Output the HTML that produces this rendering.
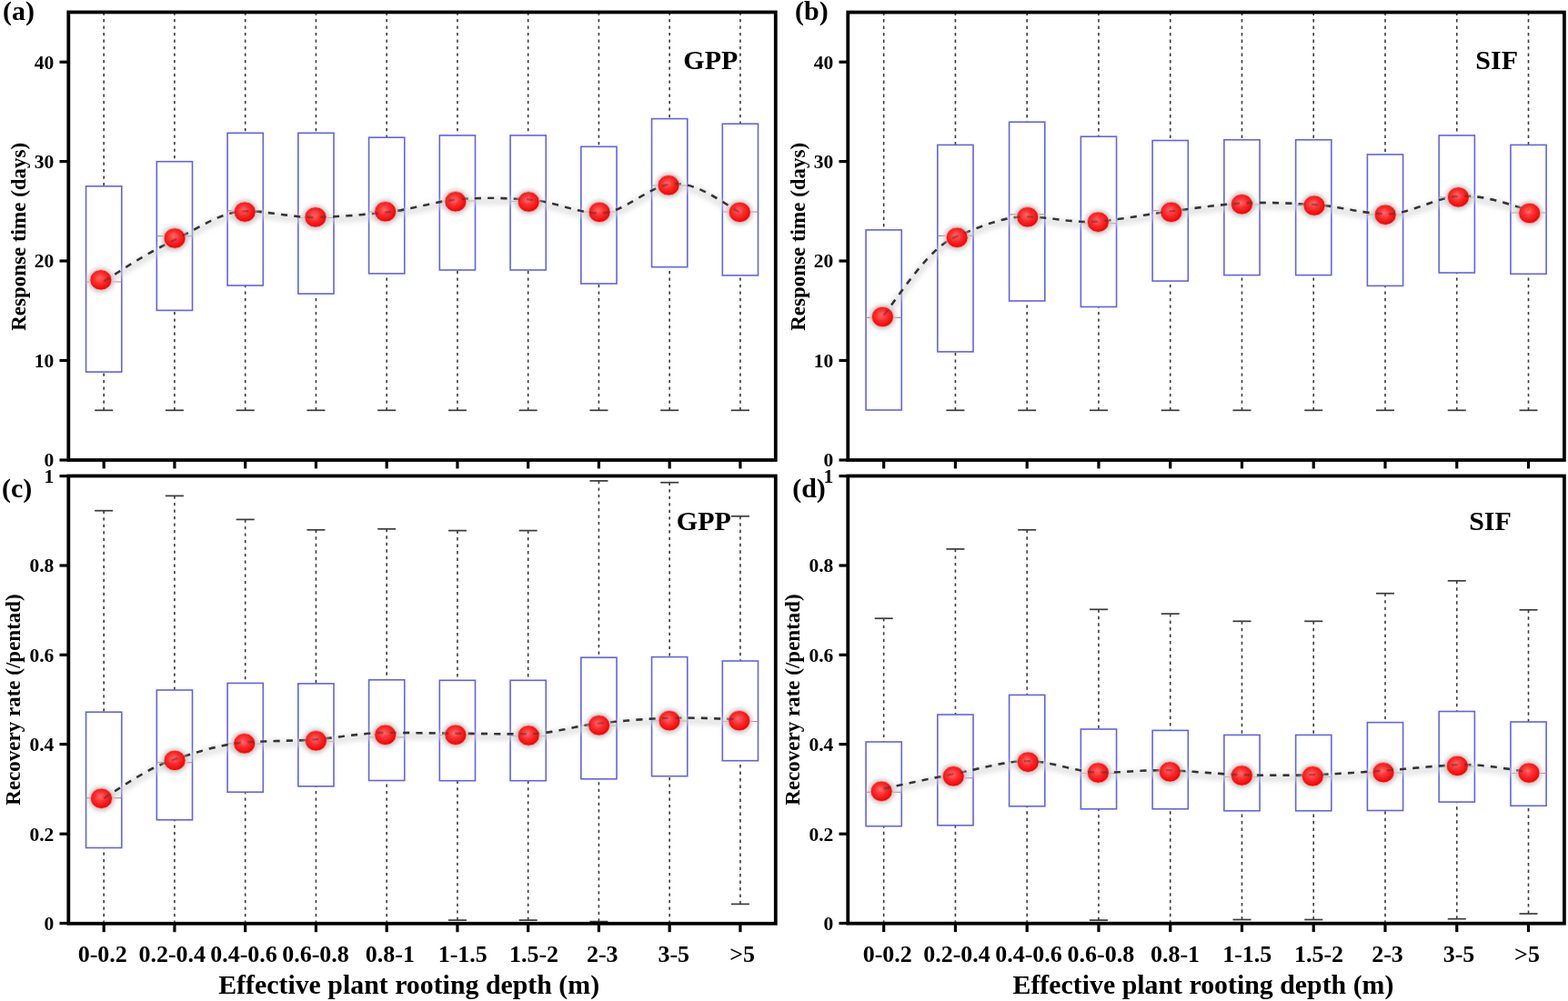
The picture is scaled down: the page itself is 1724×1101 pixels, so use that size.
<!DOCTYPE html><html><head><meta charset="utf-8"><title>Effective plant rooting depth</title>
<style>html,body{margin:0;padding:0;background:#fff;width:1724px;height:1101px;overflow:hidden}svg{display:block}text{font-family:'Liberation Serif','Times New Roman',serif;font-weight:bold;fill:#000;font-variant-ligatures:none}</style></head><body>
<svg width="1724" height="1101" viewBox="0 0 1724 1101">
<defs><radialGradient id="rg" cx="0.45" cy="0.42" r="0.62" fx="0.45" fy="0.42"><stop offset="0" stop-color="#ff6b6b"/><stop offset="0.45" stop-color="#ff2a2a"/><stop offset="0.85" stop-color="#f00808"/><stop offset="1" stop-color="#d80000"/></radialGradient><filter id="glow" x="-50%" y="-50%" width="200%" height="200%"><feGaussianBlur stdDeviation="2.2"/></filter><filter id="lsh" x="-5%" y="-50%" width="110%" height="200%"><feGaussianBlur stdDeviation="2.6"/></filter></defs>
<rect width="1724" height="1101" fill="#fff"/>
<g stroke="#3a3a3a" stroke-width="1.6" stroke-dasharray="3.4 4.1" fill="none"><line x1="114.17" y1="13.4" x2="114.17" y2="204.8"/><line x1="114.17" y1="451.3" x2="114.17" y2="409.1"/><line x1="191.93" y1="13.4" x2="191.93" y2="177.7"/><line x1="191.93" y1="451.3" x2="191.93" y2="341.4"/><line x1="269.68" y1="13.4" x2="269.68" y2="146.3"/><line x1="269.68" y1="451.3" x2="269.68" y2="314"/><line x1="347.43" y1="13.4" x2="347.43" y2="146.3"/><line x1="347.43" y1="451.3" x2="347.43" y2="323.1"/><line x1="425.18" y1="13.4" x2="425.18" y2="151.2"/><line x1="425.18" y1="451.3" x2="425.18" y2="300.9"/><line x1="502.93" y1="13.4" x2="502.93" y2="148.9"/><line x1="502.93" y1="451.3" x2="502.93" y2="297"/><line x1="580.67" y1="13.4" x2="580.67" y2="148.9"/><line x1="580.67" y1="451.3" x2="580.67" y2="297"/><line x1="658.42" y1="13.4" x2="658.42" y2="161.3"/><line x1="658.42" y1="451.3" x2="658.42" y2="312"/><line x1="736.17" y1="13.4" x2="736.17" y2="130.6"/><line x1="736.17" y1="451.3" x2="736.17" y2="293.7"/><line x1="813.92" y1="13.4" x2="813.92" y2="136.2"/><line x1="813.92" y1="451.3" x2="813.92" y2="302.9"/></g>
<g stroke="#3a3a3a" stroke-width="1.7"><line x1="104.17" y1="451.3" x2="124.17" y2="451.3"/><line x1="181.93" y1="451.3" x2="201.93" y2="451.3"/><line x1="259.68" y1="451.3" x2="279.68" y2="451.3"/><line x1="337.43" y1="451.3" x2="357.43" y2="451.3"/><line x1="415.18" y1="451.3" x2="435.18" y2="451.3"/><line x1="492.93" y1="451.3" x2="512.92" y2="451.3"/><line x1="570.67" y1="451.3" x2="590.67" y2="451.3"/><line x1="648.42" y1="451.3" x2="668.42" y2="451.3"/><line x1="726.17" y1="451.3" x2="746.17" y2="451.3"/><line x1="803.92" y1="451.3" x2="823.92" y2="451.3"/></g>
<g stroke="#6262e4" stroke-width="1.6" fill="none"><rect x="94.57" y="204.8" width="39.2" height="204.3"/><rect x="172.33" y="177.7" width="39.2" height="163.7"/><rect x="250.08" y="146.3" width="39.2" height="167.7"/><rect x="327.82" y="146.3" width="39.2" height="176.8"/><rect x="405.57" y="151.2" width="39.2" height="149.7"/><rect x="483.32" y="148.9" width="39.2" height="148.1"/><rect x="561.07" y="148.9" width="39.2" height="148.1"/><rect x="638.82" y="161.3" width="39.2" height="150.7"/><rect x="716.57" y="130.6" width="39.2" height="163.1"/><rect x="794.32" y="136.2" width="39.2" height="166.7"/></g>
<g stroke="#b08898" stroke-width="1.2"><line x1="94.57" y1="310" x2="133.78" y2="310"/><line x1="172.33" y1="259.7" x2="211.53" y2="259.7"/><line x1="250.08" y1="231.6" x2="289.28" y2="231.6"/><line x1="327.82" y1="239.5" x2="367.03" y2="239.5"/><line x1="405.57" y1="233" x2="444.78" y2="233"/><line x1="483.32" y1="221" x2="522.52" y2="221"/><line x1="561.07" y1="221.5" x2="600.27" y2="221.5"/><line x1="638.82" y1="233" x2="678.02" y2="233"/><line x1="716.57" y1="204" x2="755.77" y2="204"/><line x1="794.32" y1="233" x2="833.52" y2="233"/></g>
<path d="M114.17,309.6 C140.09,292.46 166.01,276.35 191.93,263.8 C217.84,251.25 243.76,232.54 269.68,232.3 C295.59,232.06 321.51,239.63 347.43,238.9 C373.34,238.17 399.26,236.38 425.18,233.5 C451.09,230.62 477.01,222 502.93,219.4 C528.84,216.8 554.76,218 580.67,219.4 C606.59,220.8 632.51,233.68 658.42,234.6 C684.34,235.52 710.26,206.81 736.17,202.6 C762.09,198.39 788.01,218.29 813.92,234.1" transform="translate(0,3)" stroke="#d4d4d4" stroke-width="9" fill="none" filter="url(#lsh)" opacity="0.55"/>
<path d="M114.17,309.6 C140.09,292.46 166.01,276.35 191.93,263.8 C217.84,251.25 243.76,232.54 269.68,232.3 C295.59,232.06 321.51,239.63 347.43,238.9 C373.34,238.17 399.26,236.38 425.18,233.5 C451.09,230.62 477.01,222 502.93,219.4 C528.84,216.8 554.76,218 580.67,219.4 C606.59,220.8 632.51,233.68 658.42,234.6 C684.34,235.52 710.26,206.81 736.17,202.6 C762.09,198.39 788.01,218.29 813.92,234.1" stroke="#333333" stroke-width="2.4" stroke-dasharray="7 7.3" fill="none"/>
<ellipse cx="110.9" cy="308.2" rx="14.6" ry="13.8" fill="#c2cbc7" filter="url(#glow)" opacity="0.9"/><ellipse cx="192.1" cy="262.3" rx="14.6" ry="13.8" fill="#c2cbc7" filter="url(#glow)" opacity="0.9"/><ellipse cx="269.2" cy="233.4" rx="14.6" ry="13.8" fill="#c2cbc7" filter="url(#glow)" opacity="0.9"/><ellipse cx="346.9" cy="239.2" rx="14.6" ry="13.8" fill="#c2cbc7" filter="url(#glow)" opacity="0.9"/><ellipse cx="423.7" cy="233.1" rx="14.6" ry="13.8" fill="#c2cbc7" filter="url(#glow)" opacity="0.9"/><ellipse cx="500.9" cy="222.1" rx="14.6" ry="13.8" fill="#c2cbc7" filter="url(#glow)" opacity="0.9"/><ellipse cx="581.2" cy="222.3" rx="14.6" ry="13.8" fill="#c2cbc7" filter="url(#glow)" opacity="0.9"/><ellipse cx="659.1" cy="233.7" rx="14.6" ry="13.8" fill="#c2cbc7" filter="url(#glow)" opacity="0.9"/><ellipse cx="735.1" cy="204.1" rx="14.6" ry="13.8" fill="#c2cbc7" filter="url(#glow)" opacity="0.9"/><ellipse cx="813.3" cy="233.7" rx="14.6" ry="13.8" fill="#c2cbc7" filter="url(#glow)" opacity="0.9"/>
<g fill="url(#rg)" stroke="#ffb8b8" stroke-width="0.8"><ellipse cx="110.9" cy="307.9" rx="12" ry="11.2"/><ellipse cx="192.1" cy="262" rx="12" ry="11.2"/><ellipse cx="269.2" cy="233.1" rx="12" ry="11.2"/><ellipse cx="346.9" cy="238.9" rx="12" ry="11.2"/><ellipse cx="423.7" cy="232.8" rx="12" ry="11.2"/><ellipse cx="500.9" cy="221.8" rx="12" ry="11.2"/><ellipse cx="581.2" cy="222" rx="12" ry="11.2"/><ellipse cx="659.1" cy="233.4" rx="12" ry="11.2"/><ellipse cx="735.1" cy="203.8" rx="12" ry="11.2"/><ellipse cx="813.3" cy="233.4" rx="12" ry="11.2"/></g>
<path d="M114.17,309.6 C140.09,292.46 166.01,276.35 191.93,263.8 C217.84,251.25 243.76,232.54 269.68,232.3 C295.59,232.06 321.51,239.63 347.43,238.9 C373.34,238.17 399.26,236.38 425.18,233.5 C451.09,230.62 477.01,222 502.93,219.4 C528.84,216.8 554.76,218 580.67,219.4 C606.59,220.8 632.51,233.68 658.42,234.6 C684.34,235.52 710.26,206.81 736.17,202.6 C762.09,198.39 788.01,218.29 813.92,234.1" stroke="#333333" stroke-opacity="0.45" stroke-width="2.4" stroke-dasharray="7 7.3" fill="none"/>
<rect x="75.3" y="13.4" width="777.5" height="492.6" fill="none" stroke="#000" stroke-width="3.8"/><line x1="65.5" y1="506" x2="75.3" y2="506" stroke="#000" stroke-width="3.2"/><line x1="65.5" y1="396.5" x2="75.3" y2="396.5" stroke="#000" stroke-width="3.2"/><line x1="65.5" y1="287" x2="75.3" y2="287" stroke="#000" stroke-width="3.2"/><line x1="65.5" y1="177.6" x2="75.3" y2="177.6" stroke="#000" stroke-width="3.2"/><line x1="65.5" y1="68.2" x2="75.3" y2="68.2" stroke="#000" stroke-width="3.2"/><line x1="114.17" y1="506" x2="114.17" y2="515.4" stroke="#000" stroke-width="3.2"/><line x1="191.93" y1="506" x2="191.93" y2="515.4" stroke="#000" stroke-width="3.2"/><line x1="269.68" y1="506" x2="269.68" y2="515.4" stroke="#000" stroke-width="3.2"/><line x1="347.43" y1="506" x2="347.43" y2="515.4" stroke="#000" stroke-width="3.2"/><line x1="425.18" y1="506" x2="425.18" y2="515.4" stroke="#000" stroke-width="3.2"/><line x1="502.93" y1="506" x2="502.93" y2="515.4" stroke="#000" stroke-width="3.2"/><line x1="580.67" y1="506" x2="580.67" y2="515.4" stroke="#000" stroke-width="3.2"/><line x1="658.42" y1="506" x2="658.42" y2="515.4" stroke="#000" stroke-width="3.2"/><line x1="736.17" y1="506" x2="736.17" y2="515.4" stroke="#000" stroke-width="3.2"/><line x1="813.92" y1="506" x2="813.92" y2="515.4" stroke="#000" stroke-width="3.2"/>
<g style="font-size:21.5px"><text x="59.3" y="513.3" text-anchor="end">0</text><text x="59.3" y="403.8" text-anchor="end">10</text><text x="59.3" y="294.3" text-anchor="end">20</text><text x="59.3" y="184.9" text-anchor="end">30</text><text x="59.3" y="75.5" text-anchor="end">40</text></g>
<text transform="translate(27.8,260.3) rotate(-90)" text-anchor="middle" style="font-size:23px">Response time (days)</text>
<text x="3" y="21.5" style="font-size:30px">(a)</text>
<text x="751.3" y="75.5" style="font-size:30px">GPP</text>
<g stroke="#3a3a3a" stroke-width="1.6" stroke-dasharray="3.4 4.1" fill="none"><line x1="971.68" y1="13.5" x2="971.68" y2="252.9"/><line x1="1050.44" y1="13.5" x2="1050.44" y2="159.4"/><line x1="1050.44" y1="451.3" x2="1050.44" y2="386.9"/><line x1="1129.2" y1="13.5" x2="1129.2" y2="134.2"/><line x1="1129.2" y1="451.3" x2="1129.2" y2="331"/><line x1="1207.96" y1="13.5" x2="1207.96" y2="150.2"/><line x1="1207.96" y1="451.3" x2="1207.96" y2="337.5"/><line x1="1286.72" y1="13.5" x2="1286.72" y2="154.5"/><line x1="1286.72" y1="451.3" x2="1286.72" y2="309.1"/><line x1="1365.48" y1="13.5" x2="1365.48" y2="153.8"/><line x1="1365.48" y1="451.3" x2="1365.48" y2="302.6"/><line x1="1444.24" y1="13.5" x2="1444.24" y2="153.8"/><line x1="1444.24" y1="451.3" x2="1444.24" y2="302.6"/><line x1="1523" y1="13.5" x2="1523" y2="169.9"/><line x1="1523" y1="451.3" x2="1523" y2="314.4"/><line x1="1601.76" y1="13.5" x2="1601.76" y2="148.9"/><line x1="1601.76" y1="451.3" x2="1601.76" y2="300"/><line x1="1680.52" y1="13.5" x2="1680.52" y2="159.4"/><line x1="1680.52" y1="451.3" x2="1680.52" y2="301.3"/></g>
<g stroke="#3a3a3a" stroke-width="1.7"><line x1="1040.44" y1="451.3" x2="1060.44" y2="451.3"/><line x1="1119.2" y1="451.3" x2="1139.2" y2="451.3"/><line x1="1197.96" y1="451.3" x2="1217.96" y2="451.3"/><line x1="1276.72" y1="451.3" x2="1296.72" y2="451.3"/><line x1="1355.48" y1="451.3" x2="1375.48" y2="451.3"/><line x1="1434.24" y1="451.3" x2="1454.24" y2="451.3"/><line x1="1513" y1="451.3" x2="1533" y2="451.3"/><line x1="1591.76" y1="451.3" x2="1611.76" y2="451.3"/><line x1="1670.52" y1="451.3" x2="1690.52" y2="451.3"/></g>
<g stroke="#6262e4" stroke-width="1.6" fill="none"><rect x="952.08" y="252.9" width="39.2" height="198.1"/><rect x="1030.84" y="159.4" width="39.2" height="227.5"/><rect x="1109.6" y="134.2" width="39.2" height="196.8"/><rect x="1188.36" y="150.2" width="39.2" height="187.3"/><rect x="1267.12" y="154.5" width="39.2" height="154.6"/><rect x="1345.88" y="153.8" width="39.2" height="148.8"/><rect x="1424.64" y="153.8" width="39.2" height="148.8"/><rect x="1503.4" y="169.9" width="39.2" height="144.5"/><rect x="1582.16" y="148.9" width="39.2" height="151.1"/><rect x="1660.92" y="159.4" width="39.2" height="141.9"/></g>
<g stroke="#b08898" stroke-width="1.2"><line x1="952.08" y1="349.3" x2="991.28" y2="349.3"/><line x1="1030.84" y1="259.4" x2="1070.04" y2="259.4"/><line x1="1109.6" y1="235.9" x2="1148.8" y2="235.9"/><line x1="1188.36" y1="245.7" x2="1227.56" y2="245.7"/><line x1="1267.12" y1="231.6" x2="1306.32" y2="231.6"/><line x1="1345.88" y1="225" x2="1385.08" y2="225"/><line x1="1424.64" y1="226" x2="1463.84" y2="226"/><line x1="1503.4" y1="236" x2="1542.6" y2="236"/><line x1="1582.16" y1="217" x2="1621.36" y2="217"/><line x1="1660.92" y1="234" x2="1700.12" y2="234"/></g>
<path d="M971.68,347 C997.93,311.26 1024.19,271.51 1050.44,260.6 C1076.69,249.69 1102.95,237.96 1129.2,238.4 C1155.45,238.84 1181.71,245.82 1207.96,243.5 C1234.21,241.18 1260.47,235.79 1286.72,232.5 C1312.97,229.21 1339.23,224.94 1365.48,223.5 C1391.73,222.06 1417.99,223.63 1444.24,225 C1470.49,226.37 1496.75,234.79 1523,235.4 C1549.25,236.01 1575.51,218.57 1601.76,216 C1628.01,213.43 1654.27,223.08 1680.52,231.2" transform="translate(0,3)" stroke="#d4d4d4" stroke-width="9" fill="none" filter="url(#lsh)" opacity="0.55"/>
<path d="M971.68,347 C997.93,311.26 1024.19,271.51 1050.44,260.6 C1076.69,249.69 1102.95,237.96 1129.2,238.4 C1155.45,238.84 1181.71,245.82 1207.96,243.5 C1234.21,241.18 1260.47,235.79 1286.72,232.5 C1312.97,229.21 1339.23,224.94 1365.48,223.5 C1391.73,222.06 1417.99,223.63 1444.24,225 C1470.49,226.37 1496.75,234.79 1523,235.4 C1549.25,236.01 1575.51,218.57 1601.76,216 C1628.01,213.43 1654.27,223.08 1680.52,231.2" stroke="#333333" stroke-width="2.4" stroke-dasharray="7 7.3" fill="none"/>
<ellipse cx="970.4" cy="348.8" rx="14.6" ry="13.8" fill="#c2cbc7" filter="url(#glow)" opacity="0.9"/><ellipse cx="1052.2" cy="261.6" rx="14.6" ry="13.8" fill="#c2cbc7" filter="url(#glow)" opacity="0.9"/><ellipse cx="1129.8" cy="239.1" rx="14.6" ry="13.8" fill="#c2cbc7" filter="url(#glow)" opacity="0.9"/><ellipse cx="1207.4" cy="244.5" rx="14.6" ry="13.8" fill="#c2cbc7" filter="url(#glow)" opacity="0.9"/><ellipse cx="1287.8" cy="233.6" rx="14.6" ry="13.8" fill="#c2cbc7" filter="url(#glow)" opacity="0.9"/><ellipse cx="1365.4" cy="225" rx="14.6" ry="13.8" fill="#c2cbc7" filter="url(#glow)" opacity="0.9"/><ellipse cx="1445" cy="226.4" rx="14.6" ry="13.8" fill="#c2cbc7" filter="url(#glow)" opacity="0.9"/><ellipse cx="1523.2" cy="236.5" rx="14.6" ry="13.8" fill="#c2cbc7" filter="url(#glow)" opacity="0.9"/><ellipse cx="1603.4" cy="217.2" rx="14.6" ry="13.8" fill="#c2cbc7" filter="url(#glow)" opacity="0.9"/><ellipse cx="1681.7" cy="234.8" rx="14.6" ry="13.8" fill="#c2cbc7" filter="url(#glow)" opacity="0.9"/>
<g fill="url(#rg)" stroke="#ffb8b8" stroke-width="0.8"><ellipse cx="970.4" cy="348.5" rx="12" ry="11.2"/><ellipse cx="1052.2" cy="261.3" rx="12" ry="11.2"/><ellipse cx="1129.8" cy="238.8" rx="12" ry="11.2"/><ellipse cx="1207.4" cy="244.2" rx="12" ry="11.2"/><ellipse cx="1287.8" cy="233.3" rx="12" ry="11.2"/><ellipse cx="1365.4" cy="224.7" rx="12" ry="11.2"/><ellipse cx="1445" cy="226.1" rx="12" ry="11.2"/><ellipse cx="1523.2" cy="236.2" rx="12" ry="11.2"/><ellipse cx="1603.4" cy="216.9" rx="12" ry="11.2"/><ellipse cx="1681.7" cy="234.5" rx="12" ry="11.2"/></g>
<path d="M971.68,347 C997.93,311.26 1024.19,271.51 1050.44,260.6 C1076.69,249.69 1102.95,237.96 1129.2,238.4 C1155.45,238.84 1181.71,245.82 1207.96,243.5 C1234.21,241.18 1260.47,235.79 1286.72,232.5 C1312.97,229.21 1339.23,224.94 1365.48,223.5 C1391.73,222.06 1417.99,223.63 1444.24,225 C1470.49,226.37 1496.75,234.79 1523,235.4 C1549.25,236.01 1575.51,218.57 1601.76,216 C1628.01,213.43 1654.27,223.08 1680.52,231.2" stroke="#333333" stroke-opacity="0.45" stroke-width="2.4" stroke-dasharray="7 7.3" fill="none"/>
<rect x="932.3" y="13.5" width="787.6" height="492.5" fill="none" stroke="#000" stroke-width="3.8"/><line x1="922.5" y1="506" x2="932.3" y2="506" stroke="#000" stroke-width="3.2"/><line x1="922.5" y1="396.5" x2="932.3" y2="396.5" stroke="#000" stroke-width="3.2"/><line x1="922.5" y1="287" x2="932.3" y2="287" stroke="#000" stroke-width="3.2"/><line x1="922.5" y1="177.6" x2="932.3" y2="177.6" stroke="#000" stroke-width="3.2"/><line x1="922.5" y1="68.2" x2="932.3" y2="68.2" stroke="#000" stroke-width="3.2"/><line x1="971.68" y1="506" x2="971.68" y2="515.4" stroke="#000" stroke-width="3.2"/><line x1="1050.44" y1="506" x2="1050.44" y2="515.4" stroke="#000" stroke-width="3.2"/><line x1="1129.2" y1="506" x2="1129.2" y2="515.4" stroke="#000" stroke-width="3.2"/><line x1="1207.96" y1="506" x2="1207.96" y2="515.4" stroke="#000" stroke-width="3.2"/><line x1="1286.72" y1="506" x2="1286.72" y2="515.4" stroke="#000" stroke-width="3.2"/><line x1="1365.48" y1="506" x2="1365.48" y2="515.4" stroke="#000" stroke-width="3.2"/><line x1="1444.24" y1="506" x2="1444.24" y2="515.4" stroke="#000" stroke-width="3.2"/><line x1="1523" y1="506" x2="1523" y2="515.4" stroke="#000" stroke-width="3.2"/><line x1="1601.76" y1="506" x2="1601.76" y2="515.4" stroke="#000" stroke-width="3.2"/><line x1="1680.52" y1="506" x2="1680.52" y2="515.4" stroke="#000" stroke-width="3.2"/>
<g style="font-size:21.5px"><text x="916.3" y="513.3" text-anchor="end">0</text><text x="916.3" y="403.8" text-anchor="end">10</text><text x="916.3" y="294.3" text-anchor="end">20</text><text x="916.3" y="184.9" text-anchor="end">30</text><text x="916.3" y="75.5" text-anchor="end">40</text></g>
<text transform="translate(885.3,260.3) rotate(-90)" text-anchor="middle" style="font-size:23px">Response time (days)</text>
<text x="874" y="22" style="font-size:30px">(b)</text>
<text x="1622.3" y="75.5" style="font-size:30px">SIF</text>
<g stroke="#3a3a3a" stroke-width="1.6" stroke-dasharray="3.4 4.1" fill="none"><line x1="114.17" y1="561.7" x2="114.17" y2="783.2"/><line x1="114.17" y1="1015.8" x2="114.17" y2="932.5"/><line x1="191.93" y1="545.4" x2="191.93" y2="759"/><line x1="191.93" y1="1015.8" x2="191.93" y2="901.8"/><line x1="269.68" y1="571.4" x2="269.68" y2="751.4"/><line x1="269.68" y1="1015.8" x2="269.68" y2="871.2"/><line x1="347.43" y1="582.8" x2="347.43" y2="751.9"/><line x1="347.43" y1="1015.8" x2="347.43" y2="864.8"/><line x1="425.18" y1="581.8" x2="425.18" y2="747.8"/><line x1="425.18" y1="1015.8" x2="425.18" y2="858.5"/><line x1="502.93" y1="583.6" x2="502.93" y2="748.3"/><line x1="502.93" y1="1012.1" x2="502.93" y2="858.7"/><line x1="580.67" y1="583.6" x2="580.67" y2="748.3"/><line x1="580.67" y1="1012.1" x2="580.67" y2="858.7"/><line x1="658.42" y1="528.9" x2="658.42" y2="723.2"/><line x1="658.42" y1="1013.6" x2="658.42" y2="856.8"/><line x1="736.17" y1="530.7" x2="736.17" y2="722.6"/><line x1="736.17" y1="1015.8" x2="736.17" y2="853.7"/><line x1="813.92" y1="567.8" x2="813.92" y2="727"/><line x1="813.92" y1="994.4" x2="813.92" y2="836.7"/></g>
<g stroke="#3a3a3a" stroke-width="1.7"><line x1="104.17" y1="561.7" x2="124.17" y2="561.7"/><line x1="181.93" y1="545.4" x2="201.93" y2="545.4"/><line x1="259.68" y1="571.4" x2="279.68" y2="571.4"/><line x1="337.43" y1="582.8" x2="357.43" y2="582.8"/><line x1="415.18" y1="581.8" x2="435.18" y2="581.8"/><line x1="492.93" y1="583.6" x2="512.92" y2="583.6"/><line x1="492.93" y1="1012.1" x2="512.92" y2="1012.1"/><line x1="570.67" y1="583.6" x2="590.67" y2="583.6"/><line x1="570.67" y1="1012.1" x2="590.67" y2="1012.1"/><line x1="648.42" y1="528.9" x2="668.42" y2="528.9"/><line x1="648.42" y1="1013.6" x2="668.42" y2="1013.6"/><line x1="726.17" y1="530.7" x2="746.17" y2="530.7"/><line x1="803.92" y1="567.8" x2="823.92" y2="567.8"/><line x1="803.92" y1="994.4" x2="823.92" y2="994.4"/></g>
<g stroke="#6262e4" stroke-width="1.6" fill="none"><rect x="94.57" y="783.2" width="39.2" height="149.3"/><rect x="172.33" y="759" width="39.2" height="142.8"/><rect x="250.08" y="751.4" width="39.2" height="119.8"/><rect x="327.82" y="751.9" width="39.2" height="112.9"/><rect x="405.57" y="747.8" width="39.2" height="110.7"/><rect x="483.32" y="748.3" width="39.2" height="110.4"/><rect x="561.07" y="748.3" width="39.2" height="110.4"/><rect x="638.82" y="723.2" width="39.2" height="133.6"/><rect x="716.57" y="722.6" width="39.2" height="131.1"/><rect x="794.32" y="727" width="39.2" height="109.7"/></g>
<g stroke="#b08898" stroke-width="1.2"><line x1="94.57" y1="877.6" x2="133.78" y2="877.6"/><line x1="172.33" y1="838.6" x2="211.53" y2="838.6"/><line x1="250.08" y1="818" x2="289.28" y2="818"/><line x1="327.82" y1="815.5" x2="367.03" y2="815.5"/><line x1="405.57" y1="810.8" x2="444.78" y2="810.8"/><line x1="483.32" y1="808.5" x2="522.52" y2="808.5"/><line x1="561.07" y1="809.5" x2="600.27" y2="809.5"/><line x1="638.82" y1="798" x2="678.02" y2="798"/><line x1="716.57" y1="793" x2="755.77" y2="793"/><line x1="794.32" y1="793.5" x2="833.52" y2="793.5"/></g>
<path d="M114.17,878.2 C140.09,861.06 166.01,843.45 191.93,835.2 C217.84,826.95 243.76,818.34 269.68,816.5 C295.59,814.66 321.51,815.23 347.43,813.2 C373.34,811.17 399.26,805.87 425.18,805.9 C451.09,805.93 477.01,806.46 502.93,806.7 C528.84,806.94 554.76,807.34 580.67,807.3 C606.59,807.26 632.51,798.22 658.42,795.6 C684.34,792.98 710.26,790.41 736.17,789.8 C762.09,789.19 788.01,790.14 813.92,791.5" transform="translate(0,3)" stroke="#d4d4d4" stroke-width="9" fill="none" filter="url(#lsh)" opacity="0.55"/>
<path d="M114.17,878.2 C140.09,861.06 166.01,843.45 191.93,835.2 C217.84,826.95 243.76,818.34 269.68,816.5 C295.59,814.66 321.51,815.23 347.43,813.2 C373.34,811.17 399.26,805.87 425.18,805.9 C451.09,805.93 477.01,806.46 502.93,806.7 C528.84,806.94 554.76,807.34 580.67,807.3 C606.59,807.26 632.51,798.22 658.42,795.6 C684.34,792.98 710.26,790.41 736.17,789.8 C762.09,789.19 788.01,790.14 813.92,791.5" stroke="#333333" stroke-width="2.4" stroke-dasharray="7 7.3" fill="none"/>
<ellipse cx="111.5" cy="878.5" rx="14.6" ry="13.8" fill="#c2cbc7" filter="url(#glow)" opacity="0.9"/><ellipse cx="192.1" cy="836.7" rx="14.6" ry="13.8" fill="#c2cbc7" filter="url(#glow)" opacity="0.9"/><ellipse cx="268.7" cy="818.1" rx="14.6" ry="13.8" fill="#c2cbc7" filter="url(#glow)" opacity="0.9"/><ellipse cx="347.4" cy="815.1" rx="14.6" ry="13.8" fill="#c2cbc7" filter="url(#glow)" opacity="0.9"/><ellipse cx="423.7" cy="808.6" rx="14.6" ry="13.8" fill="#c2cbc7" filter="url(#glow)" opacity="0.9"/><ellipse cx="500.9" cy="808.6" rx="14.6" ry="13.8" fill="#c2cbc7" filter="url(#glow)" opacity="0.9"/><ellipse cx="581.2" cy="809.3" rx="14.6" ry="13.8" fill="#c2cbc7" filter="url(#glow)" opacity="0.9"/><ellipse cx="658.6" cy="798.1" rx="14.6" ry="13.8" fill="#c2cbc7" filter="url(#glow)" opacity="0.9"/><ellipse cx="736" cy="793" rx="14.6" ry="13.8" fill="#c2cbc7" filter="url(#glow)" opacity="0.9"/><ellipse cx="812.8" cy="793" rx="14.6" ry="13.8" fill="#c2cbc7" filter="url(#glow)" opacity="0.9"/>
<g fill="url(#rg)" stroke="#ffb8b8" stroke-width="0.8"><ellipse cx="111.5" cy="878.2" rx="12" ry="11.2"/><ellipse cx="192.1" cy="836.4" rx="12" ry="11.2"/><ellipse cx="268.7" cy="817.8" rx="12" ry="11.2"/><ellipse cx="347.4" cy="814.8" rx="12" ry="11.2"/><ellipse cx="423.7" cy="808.3" rx="12" ry="11.2"/><ellipse cx="500.9" cy="808.3" rx="12" ry="11.2"/><ellipse cx="581.2" cy="809" rx="12" ry="11.2"/><ellipse cx="658.6" cy="797.8" rx="12" ry="11.2"/><ellipse cx="736" cy="792.7" rx="12" ry="11.2"/><ellipse cx="812.8" cy="792.7" rx="12" ry="11.2"/></g>
<path d="M114.17,878.2 C140.09,861.06 166.01,843.45 191.93,835.2 C217.84,826.95 243.76,818.34 269.68,816.5 C295.59,814.66 321.51,815.23 347.43,813.2 C373.34,811.17 399.26,805.87 425.18,805.9 C451.09,805.93 477.01,806.46 502.93,806.7 C528.84,806.94 554.76,807.34 580.67,807.3 C606.59,807.26 632.51,798.22 658.42,795.6 C684.34,792.98 710.26,790.41 736.17,789.8 C762.09,789.19 788.01,790.14 813.92,791.5" stroke="#333333" stroke-opacity="0.45" stroke-width="2.4" stroke-dasharray="7 7.3" fill="none"/>
<rect x="75.3" y="523.5" width="777.5" height="492.3" fill="none" stroke="#000" stroke-width="3.8"/><line x1="65.5" y1="1015.5" x2="75.3" y2="1015.5" stroke="#000" stroke-width="3.2"/><line x1="65.5" y1="917.2" x2="75.3" y2="917.2" stroke="#000" stroke-width="3.2"/><line x1="65.5" y1="818.6" x2="75.3" y2="818.6" stroke="#000" stroke-width="3.2"/><line x1="65.5" y1="720.3" x2="75.3" y2="720.3" stroke="#000" stroke-width="3.2"/><line x1="65.5" y1="622" x2="75.3" y2="622" stroke="#000" stroke-width="3.2"/><line x1="65.5" y1="523.6" x2="75.3" y2="523.6" stroke="#000" stroke-width="3.2"/><line x1="114.17" y1="1015.8" x2="114.17" y2="1025.2" stroke="#000" stroke-width="3.2"/><line x1="191.93" y1="1015.8" x2="191.93" y2="1025.2" stroke="#000" stroke-width="3.2"/><line x1="269.68" y1="1015.8" x2="269.68" y2="1025.2" stroke="#000" stroke-width="3.2"/><line x1="347.43" y1="1015.8" x2="347.43" y2="1025.2" stroke="#000" stroke-width="3.2"/><line x1="425.18" y1="1015.8" x2="425.18" y2="1025.2" stroke="#000" stroke-width="3.2"/><line x1="502.93" y1="1015.8" x2="502.93" y2="1025.2" stroke="#000" stroke-width="3.2"/><line x1="580.67" y1="1015.8" x2="580.67" y2="1025.2" stroke="#000" stroke-width="3.2"/><line x1="658.42" y1="1015.8" x2="658.42" y2="1025.2" stroke="#000" stroke-width="3.2"/><line x1="736.17" y1="1015.8" x2="736.17" y2="1025.2" stroke="#000" stroke-width="3.2"/><line x1="813.92" y1="1015.8" x2="813.92" y2="1025.2" stroke="#000" stroke-width="3.2"/>
<g style="font-size:21.5px"><text x="59.3" y="1022.8" text-anchor="end">0</text><text x="59.3" y="924.5" text-anchor="end">0.2</text><text x="59.3" y="825.9" text-anchor="end">0.4</text><text x="59.3" y="727.6" text-anchor="end">0.6</text><text x="59.3" y="629.3" text-anchor="end">0.8</text><text x="59.3" y="530.9" text-anchor="end">1</text></g>
<text transform="translate(22.4,769.5) rotate(-90)" text-anchor="middle" style="font-size:23px">Recovery rate (/pentad)</text>
<text x="2" y="546.5" style="font-size:30px">(c)</text>
<text x="743.8" y="582.8" style="font-size:30px">GPP</text>
<g style="font-size:26px"><text x="112.8" y="1057.5" text-anchor="middle">0-0.2</text><text x="189.3" y="1057.5" text-anchor="middle">0.2-0.4</text><text x="268" y="1057.5" text-anchor="middle">0.4-0.6</text><text x="347" y="1057.5" text-anchor="middle">0.6-0.8</text><text x="428.9" y="1057.5" text-anchor="middle">0.8-1</text><text x="508.8" y="1057.5" text-anchor="middle">1-1.5</text><text x="587" y="1057.5" text-anchor="middle">1.5-2</text><text x="662.3" y="1057.5" text-anchor="middle">2-3</text><text x="740.8" y="1057.5" text-anchor="middle">3-5</text><text x="816.2" y="1057.5" text-anchor="middle">&gt;5</text></g>
<text x="240.2" y="1092.7" style="font-size:29.85px">Effective plant rooting depth (m)</text>
<g stroke="#3a3a3a" stroke-width="1.6" stroke-dasharray="3.4 4.1" fill="none"><line x1="971.68" y1="680.2" x2="971.68" y2="816"/><line x1="971.68" y1="1015.7" x2="971.68" y2="908.7"/><line x1="1050.44" y1="603.9" x2="1050.44" y2="786"/><line x1="1050.44" y1="1015.7" x2="1050.44" y2="907.8"/><line x1="1129.2" y1="582.8" x2="1129.2" y2="764.4"/><line x1="1129.2" y1="1015.7" x2="1129.2" y2="886.8"/><line x1="1207.96" y1="670.3" x2="1207.96" y2="802"/><line x1="1207.96" y1="1012.1" x2="1207.96" y2="889.8"/><line x1="1286.72" y1="675.1" x2="1286.72" y2="803.4"/><line x1="1286.72" y1="1015.7" x2="1286.72" y2="889.8"/><line x1="1365.48" y1="683.3" x2="1365.48" y2="808.4"/><line x1="1365.48" y1="1011.5" x2="1365.48" y2="891.8"/><line x1="1444.24" y1="683.3" x2="1444.24" y2="808.4"/><line x1="1444.24" y1="1011.5" x2="1444.24" y2="891.8"/><line x1="1523" y1="652.7" x2="1523" y2="794.6"/><line x1="1523" y1="1015.7" x2="1523" y2="891.5"/><line x1="1601.76" y1="638.8" x2="1601.76" y2="782.5"/><line x1="1601.76" y1="1010.7" x2="1601.76" y2="882.1"/><line x1="1680.52" y1="670.8" x2="1680.52" y2="794"/><line x1="1680.52" y1="1005" x2="1680.52" y2="886.3"/></g>
<g stroke="#3a3a3a" stroke-width="1.7"><line x1="961.68" y1="680.2" x2="981.68" y2="680.2"/><line x1="1040.44" y1="603.9" x2="1060.44" y2="603.9"/><line x1="1119.2" y1="582.8" x2="1139.2" y2="582.8"/><line x1="1197.96" y1="670.3" x2="1217.96" y2="670.3"/><line x1="1197.96" y1="1012.1" x2="1217.96" y2="1012.1"/><line x1="1276.72" y1="675.1" x2="1296.72" y2="675.1"/><line x1="1355.48" y1="683.3" x2="1375.48" y2="683.3"/><line x1="1355.48" y1="1011.5" x2="1375.48" y2="1011.5"/><line x1="1434.24" y1="683.3" x2="1454.24" y2="683.3"/><line x1="1434.24" y1="1011.5" x2="1454.24" y2="1011.5"/><line x1="1513" y1="652.7" x2="1533" y2="652.7"/><line x1="1591.76" y1="638.8" x2="1611.76" y2="638.8"/><line x1="1591.76" y1="1010.7" x2="1611.76" y2="1010.7"/><line x1="1670.52" y1="670.8" x2="1690.52" y2="670.8"/><line x1="1670.52" y1="1005" x2="1690.52" y2="1005"/></g>
<g stroke="#6262e4" stroke-width="1.6" fill="none"><rect x="952.08" y="816" width="39.2" height="92.7"/><rect x="1030.84" y="786" width="39.2" height="121.8"/><rect x="1109.6" y="764.4" width="39.2" height="122.4"/><rect x="1188.36" y="802" width="39.2" height="87.8"/><rect x="1267.12" y="803.4" width="39.2" height="86.4"/><rect x="1345.88" y="808.4" width="39.2" height="83.4"/><rect x="1424.64" y="808.4" width="39.2" height="83.4"/><rect x="1503.4" y="794.6" width="39.2" height="96.9"/><rect x="1582.16" y="782.5" width="39.2" height="99.6"/><rect x="1660.92" y="794" width="39.2" height="92.3"/></g>
<g stroke="#b08898" stroke-width="1.2"><line x1="952.08" y1="871.4" x2="991.28" y2="871.4"/><line x1="1030.84" y1="855.6" x2="1070.04" y2="855.6"/><line x1="1109.6" y1="838" x2="1148.8" y2="838"/><line x1="1188.36" y1="850.5" x2="1227.56" y2="850.5"/><line x1="1267.12" y1="849" x2="1306.32" y2="849"/><line x1="1345.88" y1="854.5" x2="1385.08" y2="854.5"/><line x1="1424.64" y1="854.5" x2="1463.84" y2="854.5"/><line x1="1503.4" y1="850" x2="1542.6" y2="850"/><line x1="1582.16" y1="843" x2="1621.36" y2="843"/><line x1="1660.92" y1="850.5" x2="1700.12" y2="850.5"/></g>
<path d="M971.68,867.5 C997.93,861.56 1024.19,856.03 1050.44,850.9 C1076.69,845.77 1102.95,837.54 1129.2,837.1 C1155.45,836.66 1181.71,849.18 1207.96,849.6 C1234.21,850.02 1260.47,846.31 1286.72,847.3 C1312.97,848.29 1339.23,851.46 1365.48,852.2 C1391.73,852.94 1417.99,853 1444.24,852.2 C1470.49,851.4 1496.75,849.24 1523,847.5 C1549.25,845.76 1575.51,842.37 1601.76,841.2 C1628.01,840.03 1654.27,845.31 1680.52,849.2" transform="translate(0,3)" stroke="#d4d4d4" stroke-width="9" fill="none" filter="url(#lsh)" opacity="0.55"/>
<path d="M971.68,867.5 C997.93,861.56 1024.19,856.03 1050.44,850.9 C1076.69,845.77 1102.95,837.54 1129.2,837.1 C1155.45,836.66 1181.71,849.18 1207.96,849.6 C1234.21,850.02 1260.47,846.31 1286.72,847.3 C1312.97,848.29 1339.23,851.46 1365.48,852.2 C1391.73,852.94 1417.99,853 1444.24,852.2 C1470.49,851.4 1496.75,849.24 1523,847.5 C1549.25,845.76 1575.51,842.37 1601.76,841.2 C1628.01,840.03 1654.27,845.31 1680.52,849.2" stroke="#333333" stroke-width="2.4" stroke-dasharray="7 7.3" fill="none"/>
<ellipse cx="969.2" cy="870.6" rx="14.6" ry="13.8" fill="#c2cbc7" filter="url(#glow)" opacity="0.9"/><ellipse cx="1048.3" cy="854.1" rx="14.6" ry="13.8" fill="#c2cbc7" filter="url(#glow)" opacity="0.9"/><ellipse cx="1130.3" cy="838.5" rx="14.6" ry="13.8" fill="#c2cbc7" filter="url(#glow)" opacity="0.9"/><ellipse cx="1207.4" cy="850.3" rx="14.6" ry="13.8" fill="#c2cbc7" filter="url(#glow)" opacity="0.9"/><ellipse cx="1286.3" cy="849.2" rx="14.6" ry="13.8" fill="#c2cbc7" filter="url(#glow)" opacity="0.9"/><ellipse cx="1365.4" cy="853.3" rx="14.6" ry="13.8" fill="#c2cbc7" filter="url(#glow)" opacity="0.9"/><ellipse cx="1443.3" cy="854.1" rx="14.6" ry="13.8" fill="#c2cbc7" filter="url(#glow)" opacity="0.9"/><ellipse cx="1521" cy="850" rx="14.6" ry="13.8" fill="#c2cbc7" filter="url(#glow)" opacity="0.9"/><ellipse cx="1602.3" cy="842.7" rx="14.6" ry="13.8" fill="#c2cbc7" filter="url(#glow)" opacity="0.9"/><ellipse cx="1681" cy="850.4" rx="14.6" ry="13.8" fill="#c2cbc7" filter="url(#glow)" opacity="0.9"/>
<g fill="url(#rg)" stroke="#ffb8b8" stroke-width="0.8"><ellipse cx="969.2" cy="870.3" rx="12" ry="11.2"/><ellipse cx="1048.3" cy="853.8" rx="12" ry="11.2"/><ellipse cx="1130.3" cy="838.2" rx="12" ry="11.2"/><ellipse cx="1207.4" cy="850" rx="12" ry="11.2"/><ellipse cx="1286.3" cy="848.9" rx="12" ry="11.2"/><ellipse cx="1365.4" cy="853" rx="12" ry="11.2"/><ellipse cx="1443.3" cy="853.8" rx="12" ry="11.2"/><ellipse cx="1521" cy="849.7" rx="12" ry="11.2"/><ellipse cx="1602.3" cy="842.4" rx="12" ry="11.2"/><ellipse cx="1681" cy="850.1" rx="12" ry="11.2"/></g>
<path d="M971.68,867.5 C997.93,861.56 1024.19,856.03 1050.44,850.9 C1076.69,845.77 1102.95,837.54 1129.2,837.1 C1155.45,836.66 1181.71,849.18 1207.96,849.6 C1234.21,850.02 1260.47,846.31 1286.72,847.3 C1312.97,848.29 1339.23,851.46 1365.48,852.2 C1391.73,852.94 1417.99,853 1444.24,852.2 C1470.49,851.4 1496.75,849.24 1523,847.5 C1549.25,845.76 1575.51,842.37 1601.76,841.2 C1628.01,840.03 1654.27,845.31 1680.52,849.2" stroke="#333333" stroke-opacity="0.45" stroke-width="2.4" stroke-dasharray="7 7.3" fill="none"/>
<rect x="932.3" y="523.5" width="787.6" height="492.2" fill="none" stroke="#000" stroke-width="3.8"/><line x1="922.5" y1="1015.5" x2="932.3" y2="1015.5" stroke="#000" stroke-width="3.2"/><line x1="922.5" y1="917.2" x2="932.3" y2="917.2" stroke="#000" stroke-width="3.2"/><line x1="922.5" y1="818.6" x2="932.3" y2="818.6" stroke="#000" stroke-width="3.2"/><line x1="922.5" y1="720.3" x2="932.3" y2="720.3" stroke="#000" stroke-width="3.2"/><line x1="922.5" y1="622" x2="932.3" y2="622" stroke="#000" stroke-width="3.2"/><line x1="922.5" y1="523.6" x2="932.3" y2="523.6" stroke="#000" stroke-width="3.2"/><line x1="971.68" y1="1015.7" x2="971.68" y2="1025.1" stroke="#000" stroke-width="3.2"/><line x1="1050.44" y1="1015.7" x2="1050.44" y2="1025.1" stroke="#000" stroke-width="3.2"/><line x1="1129.2" y1="1015.7" x2="1129.2" y2="1025.1" stroke="#000" stroke-width="3.2"/><line x1="1207.96" y1="1015.7" x2="1207.96" y2="1025.1" stroke="#000" stroke-width="3.2"/><line x1="1286.72" y1="1015.7" x2="1286.72" y2="1025.1" stroke="#000" stroke-width="3.2"/><line x1="1365.48" y1="1015.7" x2="1365.48" y2="1025.1" stroke="#000" stroke-width="3.2"/><line x1="1444.24" y1="1015.7" x2="1444.24" y2="1025.1" stroke="#000" stroke-width="3.2"/><line x1="1523" y1="1015.7" x2="1523" y2="1025.1" stroke="#000" stroke-width="3.2"/><line x1="1601.76" y1="1015.7" x2="1601.76" y2="1025.1" stroke="#000" stroke-width="3.2"/><line x1="1680.52" y1="1015.7" x2="1680.52" y2="1025.1" stroke="#000" stroke-width="3.2"/>
<g style="font-size:21.5px"><text x="916.3" y="1022.8" text-anchor="end">0</text><text x="916.3" y="924.5" text-anchor="end">0.2</text><text x="916.3" y="825.9" text-anchor="end">0.4</text><text x="916.3" y="727.6" text-anchor="end">0.6</text><text x="916.3" y="629.3" text-anchor="end">0.8</text><text x="916.3" y="530.9" text-anchor="end">1</text></g>
<text transform="translate(879.4,769.5) rotate(-90)" text-anchor="middle" style="font-size:23px">Recovery rate (/pentad)</text>
<text x="871.2" y="546.5" style="font-size:30px">(d)</text>
<text x="1615.2" y="582.8" style="font-size:30px">SIF</text>
<g style="font-size:26px"><text x="975.8" y="1057.5" text-anchor="middle">0-0.2</text><text x="1052" y="1057.5" text-anchor="middle">0.2-0.4</text><text x="1131" y="1057.5" text-anchor="middle">0.4-0.6</text><text x="1210.4" y="1057.5" text-anchor="middle">0.6-0.8</text><text x="1292" y="1057.5" text-anchor="middle">0.8-1</text><text x="1371.3" y="1057.5" text-anchor="middle">1-1.5</text><text x="1450" y="1057.5" text-anchor="middle">1.5-2</text><text x="1525.5" y="1057.5" text-anchor="middle">2-3</text><text x="1604" y="1057.5" text-anchor="middle">3-5</text><text x="1679" y="1057.5" text-anchor="middle">&gt;5</text></g>
<text x="1113.5" y="1092.7" style="font-size:29.85px">Effective plant rooting depth (m)</text>
</svg></body></html>
